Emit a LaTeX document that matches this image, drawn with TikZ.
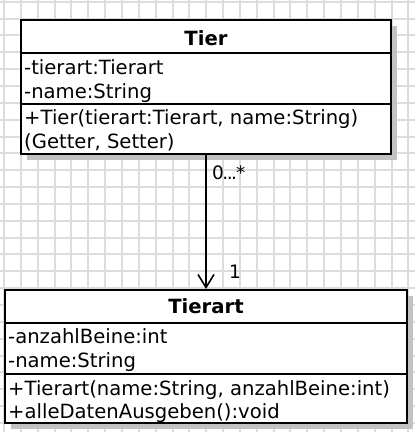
\documentclass[tikz,border=0pt]{standalone}
\usepackage{fontspec}
\setmainfont{DejaVu Sans}
\usetikzlibrary{arrows.meta}
\definecolor{gridc}{HTML}{DCDCDC}
\definecolor{shadowc}{HTML}{C2C2C2}
\tikzset{
  gridline/.style={gridc, line width=2pt},
  classbox/.style={draw=black, fill=white, line width=2pt, rectangle, inner sep=0pt},
  shadowbox/.style={fill=shadowc},
  sepline/.style={black, line width=2pt},
  member/.style={anchor=base west, inner sep=0pt, font=\fontsize{19.6}{24}\selectfont},
  title/.style={anchor=base, inner sep=0pt, font=\fontsize{19.6}{24}\selectfont\bfseries},
  mult/.style={anchor=base west, inner sep=0pt, font=\fontsize{18.5}{24}\selectfont},
  assoc/.style={line width=2pt, -{Straight Barb[length=13pt,width=16pt,line width=1.6pt]}}
}
\begin{document}
\begin{tikzpicture}[x=1pt,y=-1pt]
\useasboundingbox (0,0) rectangle (415,432);
\fill[white] (0,0) rectangle (415,432);
% grid
\foreach \i in {0,...,24} \draw[gridline] ({4+16.85*\i},0) -- ({4+16.85*\i},432);
\foreach \i in {0,...,25} \draw[gridline] (0,{1.7+16.85*\i}) -- (415,{1.7+16.85*\i});

% Tier
\fill[shadowbox] (27,26) rectangle (397,160);
\node[classbox, minimum width=370pt, minimum height=134pt] (tier) at (206,87) {};
\draw[sepline] (tier.west |- 0,53) -- (tier.east |- 0,53);
\draw[sepline] (tier.west |- 0,104.3) -- (tier.east |- 0,104.3);
\node[title] (tiert) at (206,45) {Tier};
\node[member] (ta1) at (24,74) {-tierart:Tierart};
\node[member] (ta2) at (24,98.3) {-name:String};
\node[member] (tm1) at (24,124) {+Tier(tierart:Tierart, name:String)};
\node[member] (tm2) at (24,148.3) {(Getter, Setter)};

% Tierart
\fill[shadowbox] (11,296) rectangle (413,429);
\node[classbox, minimum width=402pt, minimum height=132.5pt] (tierart) at (206,356.25) {};
\draw[sepline] (tierart.west |- 0,322.7) -- (tierart.east |- 0,322.7);
\draw[sepline] (tierart.west |- 0,373.7) -- (tierart.east |- 0,373.7);
\node[title] (tat) at (206,313.3) {Tierart};
\node[member] (aa1) at (8,343.3) {-anzahlBeine:int};
\node[member] (aa2) at (8,367.3) {-name:String};
\node[member] (am1) at (8,395) {+Tierart(name:String, anzahlBeine:int)};
\node[member] (am2) at (8,418.3) {+alleDatenAusgeben():void};

% association
\draw[assoc] (tier.south) -- (tierart.north);
\node[mult] (m1) at (212,179) {0\kern-1.5pt.\kern-1.5pt.\kern-1.5pt.\kern-1pt*};
\node[mult] (m2) at (229,278) {1};
\end{tikzpicture}
\end{document}
